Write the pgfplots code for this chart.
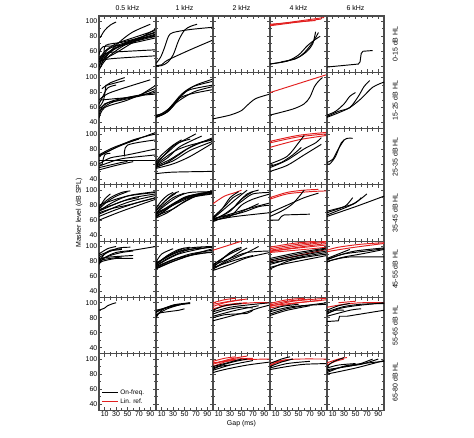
\documentclass[border=0pt]{standalone}
\usepackage{pgfplots}
\pgfplotsset{compat=1.18}
\usepgfplotslibrary{groupplots}
\usepackage{fontspec}
\setmainfont{Liberation Sans}
\definecolor{linred}{RGB}{226,32,32}
\tikzset{on/.style={draw=black, line width=0.95pt, mark=none, smooth, tension=0.5},
         lin/.style={draw=linred, line width=0.95pt, mark=none, smooth, tension=0.5}}
\newcommand{\B}[1]{\addplot[on] coordinates {#1};}
\newcommand{\R}[1]{\addplot[lin] coordinates {#1};}
\newcommand{\fs}{\fontsize{7}{8}\selectfont}
\begin{document}
\begin{tikzpicture}
\begin{groupplot}[
 group style={group size=5 by 7, horizontal sep=0pt, vertical sep=0pt,
   x descriptions at=edge bottom, y descriptions at=edge left},
 width=57bp, height=56.3bp, scale only axis,
 xmin=0, xmax=100, ymin=32, ymax=107,
 xtick={10,30,50,70,90}, minor xtick={20,40,60,80},
 ytick={40,60,80,100}, minor ytick={50,70,90},
 tick align=inside, major tick length=3bp, minor tick length=2bp,
 axis line style={line width=1.1pt, black!70},
 every tick/.append style={black!70, line width=0.7pt},
 tick label style={font=\fs},
 xticklabel style={inner sep=1.5pt},
 yticklabel style={inner sep=1.5pt},
 /pgf/number format/assume math mode=true,
]
% ---------- row 1 : 0-15 dB HL
\nextgroupplot
\B{(2,78) (10,88) (20,95) (30,99)}
\B{(3,42) (20,60) (40,75) (60,86) (90,96)}
\B{(0,50) (8,55) (12,68) (40,72) (70,78) (100,85)}
\B{(0,48) (10,60) (30,70) (60,78) (100,88)}
\B{(0,45) (15,62) (40,70) (70,77) (100,80)}
\B{(0,40) (10,55) (30,65) (60,74) (100,83)}
\B{(0,38) (5,50) (20,60) (50,72) (100,86)}
\B{(0,52) (15,58) (50,60) (100,62)}
\B{(0,46) (20,50) (100,54)}
\B{(2,47) (10,50) (30,58) (60,72) (100,90)}
\B{(0,55) (7,66) (40,68) (100,78)}
\B{(3,40) (10,52) (30,64) (60,73) (100,82)}
\B{(0,35) (8,45) (20,55) (50,70) (100,80)}
\nextgroupplot
\B{(0,44) (8,52) (15,65) (22,80) (30,85) (60,89) (100,92)}
\B{(0,40) (10,41) (20,45) (30,55) (40,75) (50,88) (60,93) (72,96)}
\B{(0,41) (10,42) (20,48) (60,62) (100,75)}
\nextgroupplot
\nextgroupplot
\R{(0,94) (90,103)}
\R{(0,95) (95,105)}
\R{(0,96) (80,101)}
\B{(0,43) (30,47) (50,52) (65,60) (75,70) (80,86)}
\B{(0,43) (30,47) (50,55) (65,67) (78,75) (88,80)}
\B{(20,46) (45,50) (60,58) (75,72) (85,85)}
\nextgroupplot
\addplot[black, line width=0.95pt, mark=none] coordinates {(0,39) (55,43) (58,46) (60,57) (63,60) (80,61)};
% ---------- row 2 : 15-25 dB HL
\nextgroupplot
\B{(0,60) (8,70) (12,88) (15,90) (45,96)}
\B{(5,85) (20,93) (45,100)}
\B{(0,65) (5,72) (15,86) (30,90)}
\B{(0,70) (20,80) (90,97)}
\B{(0,55) (20,66) (60,75) (100,80)}
\B{(0,50) (10,65) (40,70) (70,76) (100,90)}
\B{(0,46) (10,60) (50,70) (100,86)}
\B{(0,58) (20,68) (60,75) (100,78)}
\B{(3,70) (30,72) (70,75) (100,83)}
\nextgroupplot
\B{(0,47) (10,50) (20,55) (35,68) (50,80) (70,90) (100,98)}
\B{(0,48) (15,52) (30,62) (45,76) (60,84) (100,90)}
\B{(0,49) (10,52) (25,60) (40,72) (60,78) (100,84)}
\B{(0,47) (20,54) (35,66) (50,74) (70,82) (100,88)}
\B{(0,50) (15,53) (30,65) (45,78) (65,88) (100,95)}
\nextgroupplot
\B{(0,45) (30,50) (50,56) (60,63) (75,72) (100,78)}
\nextgroupplot
\R{(0,80) (100,104)}
\B{(0,50) (40,58) (60,65) (70,74) (78,88) (85,95) (92,100)}
\nextgroupplot
\B{(0,50) (15,55) (30,65) (40,75) (50,80)}
\B{(0,48) (20,55) (40,60) (55,75) (65,88) (75,96)}
\B{(0,47) (20,53) (40,60) (60,72) (80,87) (100,94)}
% ---------- row 3 : 25-35 dB HL
\nextgroupplot
\B{(0,70) (30,82) (60,92) (100,100)}
\B{(0,71) (40,85) (100,102)}
\B{(0,72) (20,80) (40,86) (70,93)}
\B{(5,58) (10,72) (20,74)}
\B{(0,57) (30,65) (50,68) (100,72)}
\B{(0,60) (20,68) (50,72) (100,80)}
\B{(0,55) (40,62) (50,63)}
\B{(0,52) (30,58) (60,63)}
\B{(0,64) (50,64) (100,64)}
\B{(45,70) (50,85) (100,92)}
\nextgroupplot
\B{(0,58) (20,68) (40,82) (60,90) (80,97)}
\B{(0,60) (15,72) (30,84) (50,92) (70,100)}
\B{(0,55) (20,62) (40,72) (60,82) (100,95)}
\B{(0,57) (25,66) (50,78) (75,88) (100,93)}
\B{(0,62) (20,75) (40,88) (60,93)}
\B{(0,56) (30,64) (60,78) (100,90)}
\B{(0,59) (15,68) (35,78) (60,85) (100,92)}
\B{(0,54) (30,60) (60,70) (100,88)}
\B{(0,63) (10,72) (30,85) (45,92)}
\B{(0,47) (30,49) (100,50)}
\nextgroupplot
\nextgroupplot
\R{(0,88) (50,96) (100,100)}
\R{(0,90) (50,98) (100,102)}
\R{(0,82) (50,92) (100,98)}
\B{(0,60) (30,70) (50,88) (60,98)}
\B{(0,55) (30,65) (60,80) (80,88) (90,95)}
\B{(0,50) (30,58) (60,72) (90,86)}
\B{(0,57) (20,62) (40,72) (55,82)}
\nextgroupplot
\B{(0,60) (5,60) (15,70) (25,88) (35,94) (45,94)}
\B{(0,62) (10,66) (20,80) (30,92)}
% ---------- row 4 : 35-45 dB HL
\nextgroupplot
\B{(0,60) (40,72) (100,88)}
\B{(0,68) (30,78) (60,86) (100,93)}
\B{(0,72) (20,82) (50,92) (100,97)}
\B{(0,75) (15,85) (30,92) (50,98)}
\B{(0,76) (10,88) (20,95)}
\B{(0,78) (20,90) (40,97) (55,99)}
\B{(0,74) (30,82) (60,90) (100,95)}
\B{(0,70) (25,76) (50,80) (100,90)}
\B{(0,80) (30,88) (60,94) (100,98)}
\B{(0,72) (40,85) (70,90)}
\B{(0,65) (30,74) (70,84) (100,90)}
\nextgroupplot
\B{(0,65) (20,75) (40,85) (60,92) (100,97)}
\B{(0,68) (10,78) (30,90) (50,96)}
\B{(0,70) (20,82) (40,92) (60,97) (100,98)}
\B{(0,72) (15,85) (30,95) (40,98)}
\B{(0,66) (30,75) (50,85) (70,92) (100,96)}
\B{(0,74) (20,88) (35,96)}
\B{(0,68) (25,78) (50,90) (80,96) (100,97)}
\B{(0,70) (30,80) (60,90) (100,95)}
\B{(0,63) (20,70) (40,80) (70,92) (100,98)}
\B{(0,76) (10,86) (20,93) (30,97)}
\B{(0,67) (40,86) (100,99)}
\B{(0,64) (15,72) (35,84) (55,92) (90,97)}
\nextgroupplot
\R{(0,82) (20,92) (40,97) (50,100)}
\B{(0,62) (20,75) (40,88) (60,100)}
\B{(0,63) (15,74) (30,90) (45,98)}
\B{(0,60) (30,72) (50,88) (70,98)}
\B{(0,61) (20,68) (50,85) (70,95) (100,97)}
\B{(0,62) (30,68) (60,75) (100,83)}
\B{(0,60) (40,65) (100,70)}
\B{(0,62) (50,70) (80,78) (100,80)}
\B{(0,64) (20,78) (35,90) (50,96)}
\B{(40,80) (60,95) (80,100)}
\B{(0,58) (20,64) (40,68) (60,75) (80,82)}
\B{(0,60) (30,65) (50,80) (70,88) (100,95)}
\nextgroupplot
\R{(0,90) (30,97) (60,100) (85,101)}
\R{(0,88) (30,95) (70,98) (100,99)}
\B{(0,65) (20,72) (40,82) (60,100)}
\B{(0,70) (30,80) (60,90) (85,96)}
\addplot[black, line width=0.95pt, mark=none] coordinates {(0,60) (15,60) (20,65) (25,67) (70,68)};
\nextgroupplot
\B{(0,70) (30,78) (40,85) (45,90)}
\B{(0,67) (30,76) (50,83) (60,90)}
\B{(0,72) (40,80) (55,86) (70,95)}
\B{(0,65) (50,78) (100,92)}
% ---------- row 5 : 45-55 dB HL
\nextgroupplot
\B{(0,80) (10,90) (20,95) (40,97)}
\B{(0,78) (10,85) (30,92) (60,95) (100,100)}
\B{(0,85) (15,92) (35,98) (55,99)}
\B{(0,82) (20,88) (40,92) (60,94)}
\B{(0,88) (20,94) (40,96)}
\B{(0,76) (5,80) (30,84) (60,84)}
\B{(0,84) (20,86) (60,88)}
\B{(0,90) (15,97) (30,100)}
\B{(0,80) (10,83) (40,86)}
\nextgroupplot
\B{(0,72) (30,82) (60,90) (100,95)}
\B{(0,74) (20,84) (50,94) (80,99)}
\B{(0,76) (20,88) (40,96) (60,99)}
\B{(0,78) (30,90) (60,98) (100,100)}
\B{(0,73) (40,85) (100,93)}
\B{(0,75) (15,85) (35,93) (50,98)}
\B{(0,70) (30,80) (70,90) (100,92)}
\B{(0,77) (25,88) (50,95) (100,99)}
\B{(0,79) (10,90) (30,97)}
\B{(0,71) (50,86) (100,97)}
\B{(0,74) (40,90) (100,100)}
\nextgroupplot
\R{(0,95) (50,107)}
\B{(0,70) (20,78) (40,85) (60,92) (80,100)}
\B{(0,72) (15,82) (30,92) (45,98)}
\B{(0,75) (20,86) (35,94) (50,99)}
\B{(0,68) (30,76) (60,85) (100,92)}
\B{(0,74) (10,78) (30,84) (60,92) (100,94)}
\B{(0,70) (25,82) (50,94) (60,98)}
\B{(0,72) (40,82) (70,88)}
\B{(0,76) (30,90) (50,97)}
\nextgroupplot
\R{(0,95) (50,101) (100,106)}
\R{(0,97) (50,103) (100,107)}
\R{(0,93) (50,99) (100,104)}
\R{(0,99) (40,104) (80,107)}
\R{(0,92) (60,96) (100,99)}
\R{(0,94) (50,98) (100,102)}
\addplot[red!50!black, line width=0.95pt, mark=none] coordinates {(0,80) (50,88) (100,96)};
\B{(0,80) (40,86) (100,94)}
\B{(0,82) (50,90) (100,97)}
\B{(0,78) (30,82) (100,90)}
\B{(0,72) (20,76) (60,82) (100,88)}
\B{(0,70) (30,80) (60,86)}
\B{(0,76) (40,84) (100,92)}
\B{(0,84) (50,92) (100,98)}
\nextgroupplot
\R{(0,95) (20,99) (60,103) (100,105)}
\R{(0,93) (40,98) (100,104)}
\B{(0,82) (20,88) (50,94) (100,98)}
\B{(0,80) (30,86) (60,90) (100,96)}
\B{(0,84) (20,90) (40,96)}
\B{(0,79) (10,82) (40,86) (100,86)}
\B{(0,83) (30,90) (70,94) (100,97)}
% ---------- row 6 : 55-65 dB HL
\nextgroupplot
\B{(0,90) (10,93) (15,96) (25,99) (30,100)}
\nextgroupplot
\B{(0,80) (10,90) (30,97) (60,100)}
\B{(0,84) (20,92) (40,97) (50,99)}
\B{(0,87) (15,93) (40,98)}
\B{(0,82) (5,86) (20,88) (40,90) (50,92)}
\B{(0,88) (30,96) (60,99)}
\B{(0,90) (40,97) (60,100)}
\nextgroupplot
\R{(0,95) (20,100) (50,104)}
\R{(0,98) (30,102) (60,105)}
\R{(0,92) (30,97) (70,100) (100,100)}
\R{(0,100) (20,104) (40,106)}
\R{(10,96) (40,99) (60,100)}
\B{(0,76) (30,82) (60,88) (80,93) (100,97)}
\B{(0,80) (20,84) (40,85) (60,86) (70,90)}
\B{(0,85) (20,90) (50,94) (70,93)}
\B{(0,88) (30,94) (60,97) (100,100)}
\B{(0,90) (20,96) (50,99)}
\B{(0,82) (40,90) (80,96)}
\nextgroupplot
\R{(0,95) (40,102) (100,106)}
\R{(0,97) (30,102) (70,105)}
\R{(0,93) (50,100) (100,104)}
\R{(0,99) (30,104) (60,106)}
\R{(0,96) (60,101) (90,103)}
\B{(0,85) (30,92) (60,96) (100,100)}
\B{(0,88) (40,95) (100,98)}
\B{(0,90) (20,95) (50,98)}
\B{(0,83) (30,90) (70,96)}
\nextgroupplot
\R{(0,94) (30,98) (60,100) (100,100)}
\R{(20,100) (50,102)}
\addplot[black, line width=0.95pt, mark=none] coordinates {(0,75) (20,76) (22,82) (35,82) (100,90)};
\B{(0,85) (20,92) (50,96) (100,100)}
\B{(0,88) (30,95) (60,98) (100,99)}
\B{(0,90) (20,96) (40,99)}
\B{(0,82) (40,90) (60,92)}
\B{(0,86) (15,90) (30,90)}
% ---------- row 7 : 65-80 dB HL
\nextgroupplot[legend style={at={(0.03,0.04)}, anchor=south west, draw=none, fill=none,
   font=\fontsize{6.5}{7}\selectfont, row sep=-1.5pt, inner sep=1pt}, legend cell align=left,
   legend image code/.code={\draw[#1] (0cm,0cm) -- (0.55cm,0cm);}]
\addplot[draw=black, line width=0.95pt, mark=none] coordinates {(0,0) (10,0)};
\addlegendentry{On-freq.}
\addplot[draw=linred, line width=0.95pt, mark=none] coordinates {(0,0) (10,0)};
\addlegendentry{Lin. ref.}
\nextgroupplot
\nextgroupplot
\R{(0,93) (30,100) (60,104)}
\R{(0,95) (50,99) (100,100)}
\R{(0,90) (20,96) (40,100)}
\R{(0,97) (20,101) (40,103)}
\R{(10,96) (40,100) (70,101)}
\B{(0,82) (20,86) (60,92) (100,96)}
\B{(0,85) (30,92) (70,98)}
\B{(0,88) (20,93) (40,97) (60,100)}
\B{(0,90) (30,96) (50,100)}
\B{(0,86) (10,90) (30,92)}
\nextgroupplot
\R{(0,92) (20,98) (50,100) (100,100)}
\R{(0,95) (20,98) (40,100)}
\R{(0,90) (10,95) (30,98)}
\B{(0,86) (30,90) (60,93) (100,94)}
\B{(0,88) (30,94) (70,97)}
\B{(0,90) (20,96) (40,100)}
\B{(0,94) (20,100) (35,103)}
\nextgroupplot
\R{(0,95) (20,100) (35,102)}
\R{(0,92) (15,97) (30,100)}
\B{(0,80) (50,88) (100,98)}
\B{(0,84) (30,90) (60,93) (90,100)}
\B{(0,86) (50,92) (80,100)}
\B{(0,90) (10,96) (30,102)}
\B{(0,88) (20,92) (50,94)}
\B{(0,82) (20,88) (40,92) (100,97)}
\end{groupplot}
% titles and labels
\node[font=\fs] at ([yshift=8bp]group c1r1.north) {0.5 kHz};
\node[font=\fs] at ([yshift=8bp]group c2r1.north) {1 kHz};
\node[font=\fs] at ([yshift=8bp]group c3r1.north) {2 kHz};
\node[font=\fs] at ([yshift=8bp]group c4r1.north) {4 kHz};
\node[font=\fs] at ([yshift=8bp]group c5r1.north) {6 kHz};
\node[font=\fs, rotate=90] at ([xshift=11bp]group c5r1.east) {0-15 dB HL};
\node[font=\fs, rotate=90] at ([xshift=11bp]group c5r2.east) {15-25 dB HL};
\node[font=\fs, rotate=90] at ([xshift=11bp]group c5r3.east) {25-35 dB HL};
\node[font=\fs, rotate=90] at ([xshift=11bp]group c5r4.east) {35-45 dB HL};
\node[font=\fs, rotate=90] at ([xshift=11bp]group c5r5.east) {45-55 dB HL};
\node[font=\fs, rotate=90] at ([xshift=11bp]group c5r6.east) {55-65 dB HL};
\node[font=\fs, rotate=90] at ([xshift=11bp]group c5r7.east) {65-80 dB HL};
\path (group c1r1.north west) -- (group c1r7.south west)
  node[midway, xshift=-20bp, rotate=90, font=\fs] {Masker level (dB SPL)};
\node[font=\fs] at ([yshift=-14bp]group c3r7.south) {Gap (ms)};
\pgfresetboundingbox
\path ([xshift=-99bp,yshift=16bp]group c1r1.north west) rectangle ([xshift=375bp,yshift=-422bp]group c1r1.north west);
\end{tikzpicture}
\end{document}
